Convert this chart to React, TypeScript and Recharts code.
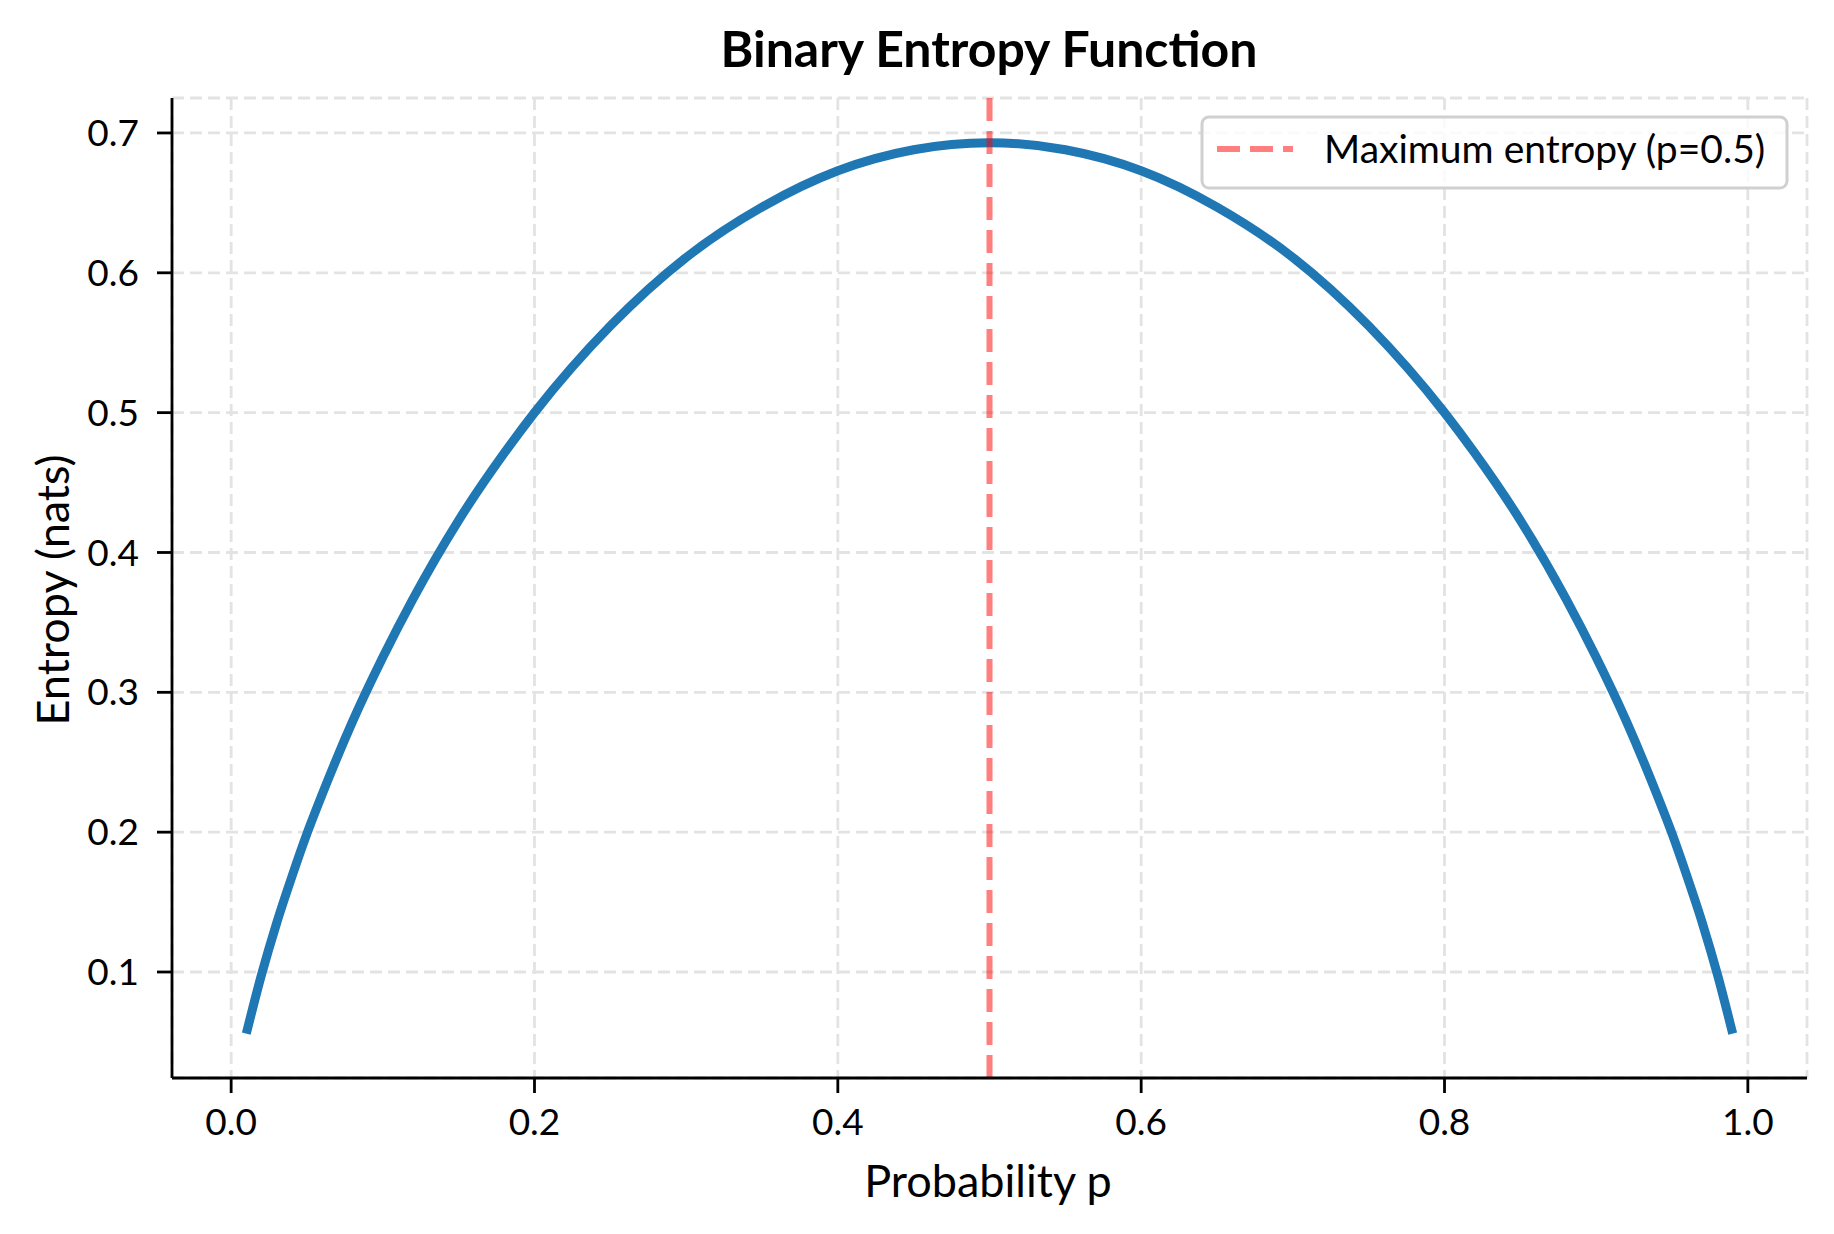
import React from "react";
import {
  LineChart,
  Line,
  XAxis,
  YAxis,
  CartesianGrid,
  ReferenceLine,
} from "recharts";

// values
const probs = [
  0.01, 0.02, 0.03, 0.04, 0.05, 0.06, 0.08, 0.1, 0.12, 0.15, 0.18, 0.2, 0.25,
  0.3, 0.35, 0.4, 0.45, 0.5, 0.55, 0.6, 0.65, 0.7, 0.75, 0.8, 0.82, 0.85, 0.88,
  0.9, 0.92, 0.94, 0.95, 0.96, 0.97, 0.98, 0.99,
];
const entropy = [
  0.056, 0.098, 0.135, 0.168, 0.199, 0.227, 0.279, 0.325, 0.367, 0.423, 0.471,
  0.5, 0.562, 0.611, 0.647, 0.673, 0.688, 0.693, 0.688, 0.673, 0.647, 0.611,
  0.562, 0.5, 0.471, 0.423, 0.367, 0.325, 0.279, 0.227, 0.199, 0.168, 0.135,
  0.098, 0.056,
];
const xTicks = [0, 0.2, 0.4, 0.6, 0.8, 1.0];
const yTicks = [0.1, 0.2, 0.3, 0.4, 0.5, 0.6, 0.7];
const maxP = 0.5;

const data = probs.map((p, i) => ({ p, h: entropy[i] }));

const FONT = "Lato, 'Noto Sans', sans-serif";
const W = 1834;
const H = 1234;

const App: React.FC = () => {
  return (
    <div style={{ position: "absolute", left: 0, top: 0, width: W, height: H, background: "#fff" }}>
      <LineChart
        width={W}
        height={H}
        data={data}
        margin={{ top: 98, right: 27, bottom: 96, left: 72 }}
        style={{ fontFamily: FONT }}
      >
        <CartesianGrid stroke="#e3e3e3" strokeWidth={2.8} strokeDasharray="12 6" />
        <XAxis
          dataKey="p"
          type="number"
          domain={[-0.039, 1.039]}
          ticks={xTicks}
          allowDataOverflow
          height={60}
          tickSize={15}
          tickMargin={16}
          tickFormatter={(v: number) => v.toFixed(1)}
          axisLine={{ stroke: "#000", strokeWidth: 2.8 }}
          tickLine={{ stroke: "#000", strokeWidth: 2.8 }}
          tick={{ fill: "#000", fontSize: 37, fontFamily: FONT }}
        />
        <YAxis
          type="number"
          domain={[0.0242, 0.725]}
          ticks={yTicks}
          allowDataOverflow
          width={100}
          tickSize={15}
          tickMargin={18}
          tickFormatter={(v: number) => v.toFixed(1)}
          axisLine={{ stroke: "#000", strokeWidth: 2.8 }}
          tickLine={{ stroke: "#000", strokeWidth: 2.8 }}
          tick={{ fill: "#000", fontSize: 37, fontFamily: FONT }}
        />
        <Line
          type="monotone"
          dataKey="h"
          stroke="#1f77b4"
          strokeWidth={9}
          dot={false}
          activeDot={false}
          isAnimationActive={false}
        />
        <ReferenceLine
          x={maxP}
          stroke="#ff0000"
          strokeOpacity={0.5}
          strokeWidth={6}
          strokeDasharray="23 10"
        />
      </LineChart>

      <svg
        width={W}
        height={H}
        style={{ position: "absolute", left: 0, top: 0, pointerEvents: "none", fontFamily: FONT }}
      >
        <text x={989} y={67} textAnchor="middle" fontSize={50} fontWeight="bold" fill="#000">
          Binary Entropy Function
        </text>
        <text x={988} y={1197} textAnchor="middle" fontSize={45} fill="#000">
          Probability p
        </text>
        <text
          x={69}
          y={590}
          textAnchor="middle"
          fontSize={45}
          fill="#000"
          transform="rotate(-90 69 590)"
        >
          Entropy (nats)
        </text>
        <rect
          x={1202}
          y={117}
          width={585}
          height={71}
          rx={7}
          fill="#fff"
          fillOpacity={0.8}
          stroke="#d0d0d0"
          strokeWidth={3}
        />
        <line
          x1={1217}
          y1={149}
          x2={1293}
          y2={149}
          stroke="#ff0000"
          strokeOpacity={0.5}
          strokeWidth={6}
          strokeDasharray="23 10"
        />
        <text x={1324} y={163} fontSize={39} fill="#000">
          Maximum entropy (p=0.5)
        </text>
      </svg>
    </div>
  );
};

export default App;
